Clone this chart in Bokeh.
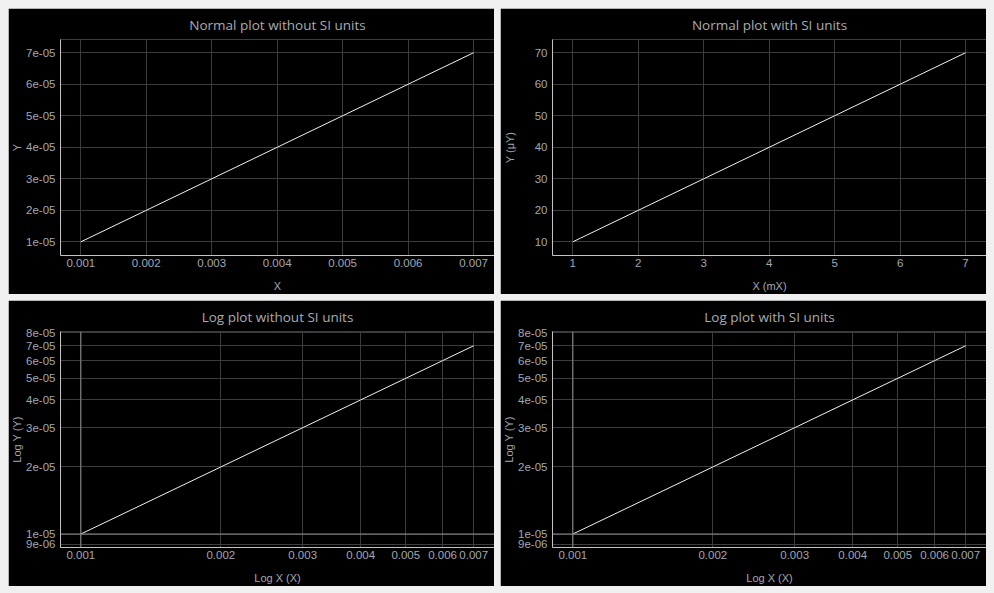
from bokeh.plotting import figure
from bokeh.layouts import column, row
from bokeh.models import FixedTicker, CustomJSTickFormatter, Span, Range1d
from bokeh.embed import file_html
from bokeh.resources import INLINE

# ---- data ----
x_vals = [0.001, 0.002, 0.003, 0.004, 0.005, 0.006, 0.007]
y_vals = [1e-05, 2e-05, 3e-05, 4e-05, 5e-05, 6e-05, 7e-05]

si_x_factor = 1e3   # X -> mX
si_y_factor = 1e6   # Y -> uY

lin_x_ticks = [0.001, 0.002, 0.003, 0.004, 0.005, 0.006, 0.007]
lin_x_labels = ["0.001", "0.002", "0.003", "0.004", "0.005", "0.006", "0.007"]
lin_y_ticks = [1e-05, 2e-05, 3e-05, 4e-05, 5e-05, 6e-05, 7e-05]
lin_y_labels = ["1e-05", "2e-05", "3e-05", "4e-05", "5e-05", "6e-05", "7e-05"]

si_x_ticks = [1, 2, 3, 4, 5, 6, 7]
si_x_labels = ["1", "2", "3", "4", "5", "6", "7"]
si_y_ticks = [10, 20, 30, 40, 50, 60, 70]
si_y_labels = ["10", "20", "30", "40", "50", "60", "70"]

log_x_ticks = [0.001, 0.002, 0.003, 0.004, 0.005, 0.006, 0.007]
log_x_labels = ["0.001", "0.002", "0.003", "0.004", "0.005", "0.006", "0.007"]
log_y_ticks = [9e-06, 1e-05, 2e-05, 3e-05, 4e-05, 5e-05, 6e-05, 7e-05, 8e-05]
log_y_labels = ["9e-06", "1e-05", "2e-05", "3e-05", "4e-05", "5e-05", "6e-05", "7e-05", "8e-05"]
log_major_x = [0.001]
log_major_y = [1e-05]

titles = ["Normal plot without SI units", "Normal plot with SI units",
          "Log plot without SI units", "Log plot with SI units"]
x_titles = ["X", "X (mX)", "Log X (X)", "Log X (X)"]
y_titles = ["Y", "Y (\u03bcY)", "Log Y (Y)", "Log Y (Y)"]

# ---- style ----
BG = "#000000"
TXT = "#a0a8b2"
TITLE_C = "#a8acb0"
GRID_C = "#3c3c3c"
MAJOR_C = "#8c8c8c"
AXIS_C = "#c4c4c4"
LINE_C = "#f0f0f0"
TICK_FONT = "Liberation Sans"
TITLE_FONT = "Open Sans"

JS = """
const i = vals.findIndex(v => Math.abs(v - tick) <= 1e-6 * Math.abs(v));
return i >= 0 ? labs[i] : "";
"""


def fmt(ticks, labels):
    return CustomJSTickFormatter(args=dict(vals=ticks, labs=labels), code=JS)


def panel(title, xr, yr, xt, xl, yt, yl, xlab, ylab, log=False, ylab_standoff=0):
    axis_type = "log" if log else "linear"
    p = figure(width=486, height=286, output_backend="svg", toolbar_location=None,
               x_axis_type=axis_type, y_axis_type=axis_type,
               x_range=Range1d(*xr), y_range=Range1d(*yr),
               background_fill_color=BG, border_fill_color=BG,
               outline_line_color=None,
               min_border_left=52, min_border_right=0,
               min_border_top=31, min_border_bottom=38)
    p.title.text = title
    p.title.align = "center"
    p.title.text_color = TITLE_C
    p.title.text_font = TITLE_FONT
    p.title.text_font_size = "13.5px"
    p.title.text_font_style = "normal"
    p.title.standoff = 11

    for ax, ticks, labels, lab in ((p.xaxis[0], xt, xl, xlab), (p.yaxis[0], yt, yl, ylab)):
        ax.ticker = FixedTicker(ticks=ticks)
        ax.formatter = fmt(ticks, labels)
        ax.axis_line_color = AXIS_C
        ax.major_tick_in = 0
        ax.major_tick_out = 0
        ax.minor_tick_in = 0
        ax.minor_tick_out = 0
        ax.major_label_text_color = TXT
        ax.major_label_text_font = TICK_FONT
        ax.major_label_text_font_size = "11.5px"
        ax.axis_label = lab
        ax.axis_label_text_color = TXT
        ax.axis_label_text_font = TICK_FONT
        ax.axis_label_text_font_size = "11px"
        ax.axis_label_text_font_style = "normal"
    p.xaxis.major_label_standoff = 3
    p.xaxis.axis_label_standoff = 10
    p.yaxis.major_label_standoff = 5
    p.yaxis.axis_label_standoff = ylab_standoff

    p.xgrid.ticker = FixedTicker(ticks=xt)
    p.ygrid.ticker = FixedTicker(ticks=yt)
    p.xgrid.grid_line_color = GRID_C
    p.ygrid.grid_line_color = GRID_C
    return p


p1 = panel(titles[0], (0.00069, 0.00732), (5.67e-06, 7.42e-05),
           lin_x_ticks, lin_x_labels, lin_y_ticks, lin_y_labels,
           x_titles[0], y_titles[0], ylab_standoff=0)
p1.line(x_vals, y_vals, line_color=LINE_C, line_width=1)

si_x = [v * si_x_factor for v in x_vals]
si_y = [v * si_y_factor for v in y_vals]
p2 = panel(titles[1], (0.69, 7.32), (5.67, 74.2),
           si_x_ticks, si_x_labels, si_y_ticks, si_y_labels,
           x_titles[1], y_titles[1], ylab_standoff=16)
p2.line(si_x, si_y, line_color=LINE_C, line_width=1)

p3 = panel(titles[2], (9.04e-04, 7.76e-03), (8.7e-06, 8.11e-05),
           log_x_ticks, log_x_labels, log_y_ticks, log_y_labels,
           x_titles[2], y_titles[2], log=True, ylab_standoff=0)
p4 = panel(titles[3], (9.04e-04, 7.76e-03), (8.7e-06, 8.11e-05),
           log_x_ticks, log_x_labels, log_y_ticks, log_y_labels,
           x_titles[3], y_titles[3], log=True, ylab_standoff=0)
for p in (p3, p4):
    for xv in log_major_x:
        p.add_layout(Span(location=xv, dimension="height", line_color=MAJOR_C, line_width=1))
    for yv in log_major_y:
        p.add_layout(Span(location=yv, dimension="width", line_color=MAJOR_C, line_width=1))
    p.line(x_vals, y_vals, line_color=LINE_C, line_width=1)

layout = column(row(p1, p2, spacing=6), row(p3, p4, spacing=6), spacing=6)

html = file_html(layout, INLINE)
html = html.replace("</head>",
                    "<style>html, body { background: #f0f0f0; overflow: hidden; } "
                    "body { padding: 8px; }</style></head>", 1)
open("out.html", "w").write(html)
